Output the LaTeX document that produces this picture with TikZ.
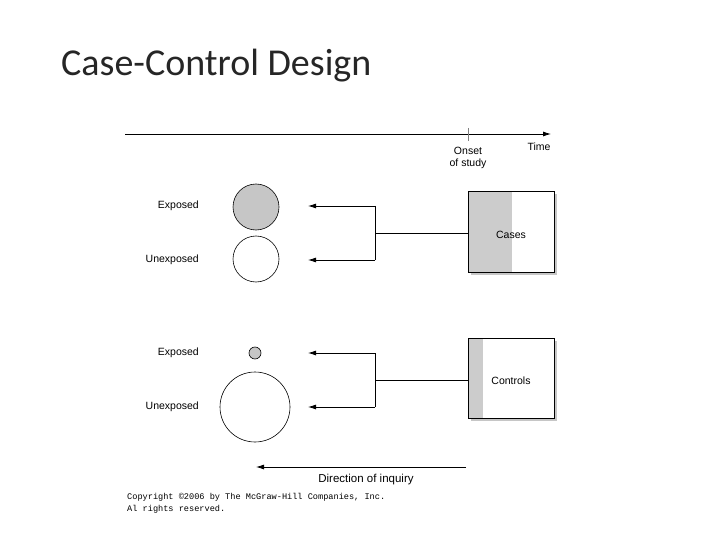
\documentclass[tikz,border=0pt]{standalone}
\usepackage{fontspec}
\setmainfont{Liberation Sans}
\newfontfamily\titlefont{Carlito}
\newfontfamily\copyfont{Liberation Mono}
\usetikzlibrary{arrows.meta}
\begin{document}
\begin{tikzpicture}[x=1pt,y=-1pt,
  lbl/.style={font=\fontsize{10.5}{12}\selectfont,inner sep=0pt},
  arr/.style={-{Latex[length=8pt,width=5pt]},line width=0.8pt},
  ln/.style={line width=0.8pt},
  circ/.style={draw,circle,line width=0.6pt,inner sep=0pt}]
\useasboundingbox (0,0) rectangle (720,540);
\node[anchor=base west,inner sep=0pt,font=\titlefont\fontsize{38}{42}\selectfont,text=black!85] (title) at (61,76) {Case-Control Design};
% time axis
\coordinate (t0) at (125,134);
\coordinate (t1) at (551,134);
\draw[arr] (t0) -- (t1);
\coordinate (tk0) at (468,128); \coordinate (tk1) at (468,141);
\draw[line width=0.6pt,gray] (tk0) -- (tk1);
\node[lbl] (onset) at (468,151) {Onset};
\node[lbl] (ofstudy) at (468,164) {of study};
\node[lbl] (time) at (539,147) {Time};
% cases box
\fill[gray!45] (471,194) rectangle (557,275);
\fill[white] (468,191) rectangle (554,272);
\fill[gray!40] (468,191) rectangle (512,272);
\draw[line width=0.8pt] (468,191) rectangle (554,272);
\node[lbl] (cases) at (511,235) {Cases};
\coordinate (casesW) at (468,233);
% controls box
\fill[gray!45] (471,341) rectangle (557,421);
\fill[white] (468,338) rectangle (554,418);
\fill[gray!40] (468,338) rectangle (483,418);
\draw[line width=0.8pt] (468,338) rectangle (554,418);
\node[lbl] (controls) at (511,381) {Controls};
\coordinate (controlsW) at (468,380);
% top circles
\node[circ,fill=gray!45,minimum size=46pt] (c1) at (256,207) {};
\node[circ,minimum size=46pt] (c2) at (256,259) {};
\node[lbl,anchor=east] (e1) at (199,206) {Exposed};
\node[lbl,anchor=east] (u1) at (199,260) {Unexposed};
% bottom circles
\node[circ,fill=gray!45,minimum size=12pt] (c3) at (255,353) {};
\node[circ,minimum size=70pt] (c4) at (255,407) {};
\node[lbl,anchor=east] (e2) at (199,353) {Exposed};
\node[lbl,anchor=east] (u2) at (199,407) {Unexposed};
% top branches
\coordinate (j1) at (375,233);
\coordinate (j1a) at (375,206); \coordinate (j1b) at (375,260);
\coordinate (a1) at (308,206); \coordinate (a2) at (308,260);
\draw[ln] (casesW) -- (j1);
\draw[ln] (j1a) -- (j1b);
\draw[arr] (j1a) -- (a1);
\draw[arr] (j1b) -- (a2);
% bottom branches
\coordinate (j2) at (375,380);
\coordinate (j2a) at (375,353); \coordinate (j2b) at (375,407);
\coordinate (a3) at (308,353); \coordinate (a4) at (308,407);
\draw[ln] (controlsW) -- (j2);
\draw[ln] (j2a) -- (j2b);
\draw[arr] (j2a) -- (a3);
\draw[arr] (j2b) -- (a4);
% direction of inquiry
\coordinate (d0) at (466,467); \coordinate (d1) at (256,467);
\draw[arr] (d0) -- (d1);
\node[lbl,font=\fontsize{11.5}{13}\selectfont] (dir) at (366,480) {Direction of inquiry};
% copyright
\node[anchor=base west,inner sep=0pt,font=\copyfont\fontsize{8.6}{10}\selectfont] (copy1) at (127,499) {Copyright \textcopyright2006 by The McGraw-Hill Companies, Inc.};
\node[anchor=base west,inner sep=0pt,font=\copyfont\fontsize{8.6}{10}\selectfont] (copy2) at (127,511) {Al rights reserved.};
\end{tikzpicture}
\end{document}
